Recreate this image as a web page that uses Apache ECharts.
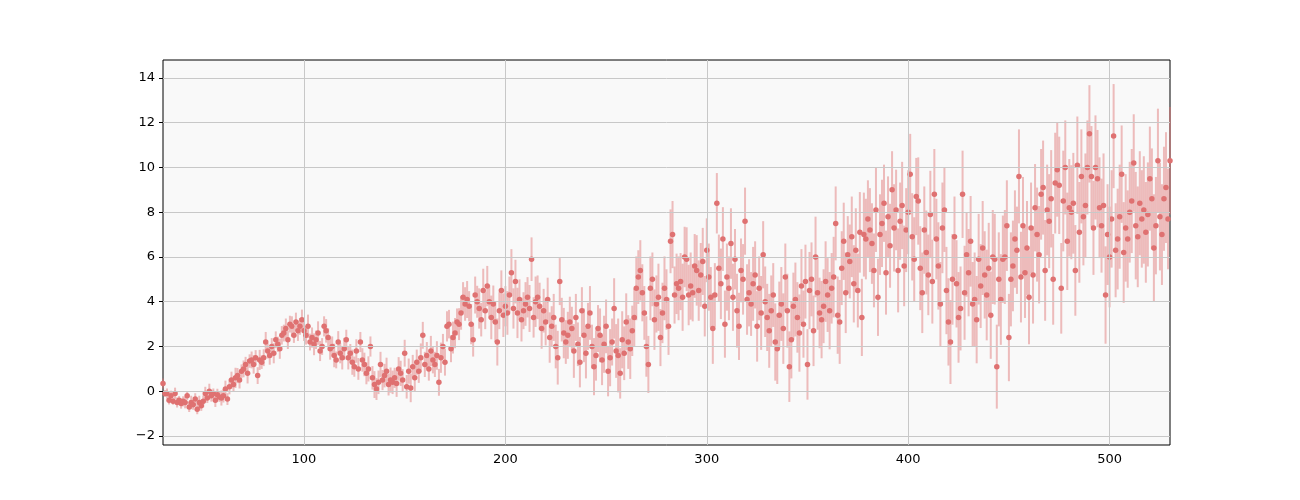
<!DOCTYPE html><html><head><meta charset="utf-8"><script src="https://cdn.jsdelivr.net/npm/echarts@6/dist/echarts.min.js"></script></head><body style="margin:0"><div id="c" style="width:1300px;height:500px"></div><script>
const xStart = 30;
const yValues = [0.35,-0.1,-0.1,-0.4,-0.2,-0.45,-0.1,-0.5,-0.4,-0.55,
-0.45,-0.5,-0.2,-0.7,-0.5,-0.6,-0.35,-0.8,-0.5,-0.65,
-0.45,-0.1,-0.3,0.0,-0.2,-0.1,-0.4,-0.15,-0.25,-0.3,
-0.2,0.1,-0.35,0.2,0.5,0.3,0.6,0.7,0.5,0.9,
1.0,1.2,0.8,1.35,1.4,1.2,1.5,0.7,1.4,1.3,
1.5,2.2,1.8,1.6,2.0,1.7,2.3,2.1,1.9,2.5,
2.6,2.8,2.3,3.0,2.9,2.5,3.1,2.7,2.9,3.2,
2.7,2.5,2.9,2.2,2.4,2.1,2.3,2.6,1.8,2.0,
2.9,2.7,2.4,1.9,2.0,1.6,1.4,2.2,1.7,1.5,
1.9,2.3,1.5,1.7,1.3,1.1,1.8,1.0,2.2,1.4,
1.2,0.8,1.0,2.0,0.6,0.3,0.1,0.4,1.2,0.5,
0.7,0.9,0.3,0.5,0.4,0.6,0.35,1.0,0.8,0.5,
1.7,0.2,0.9,0.15,1.1,0.6,1.3,0.9,1.5,2.5,
1.2,1.6,1.0,1.8,1.4,1.2,1.6,0.4,1.5,2.0,
1.3,2.9,3.0,1.9,2.4,2.6,3.1,3.0,3.5,4.2,
3.9,4.1,3.8,3.0,2.3,4.3,4.0,3.7,3.2,4.5,
3.6,4.7,4.0,3.3,3.9,3.1,2.2,3.6,4.5,3.4,
3.8,3.5,4.3,5.3,3.7,4.9,3.5,4.1,3.2,3.6,
3.9,4.2,3.7,5.9,3.3,4.0,4.2,3.8,2.8,3.6,
3.1,4.1,2.4,2.9,3.3,2.0,1.5,4.9,3.2,2.6,
2.2,2.5,3.1,2.8,1.8,3.3,2.1,1.3,3.6,2.5,
1.7,2.9,3.5,2.0,1.1,1.6,2.8,2.5,1.4,2.1,
2.9,0.9,1.5,2.2,3.7,1.8,1.6,0.8,2.3,1.7,
3.1,2.2,1.9,2.7,3.3,4.6,5.1,5.4,4.4,3.5,
2.0,1.2,4.6,5.0,3.2,3.9,4.2,2.4,3.5,4.6,
4.1,2.9,6.7,7.0,4.3,4.8,4.6,4.9,4.2,6.0,
5.9,4.3,4.7,4.4,5.6,5.4,4.5,5.2,5.8,3.8,
6.3,5.1,4.2,2.8,4.3,8.4,5.5,4.8,6.8,3.0,
5.1,4.6,6.6,4.2,5.9,3.6,2.9,5.4,5.0,7.6,
4.1,4.4,3.9,4.8,5.2,2.9,4.6,3.5,6.1,4.0,
3.3,2.7,3.6,4.3,2.2,1.9,3.4,3.9,2.8,5.1,
3.6,1.1,2.3,3.8,4.1,3.3,2.6,4.7,3.0,4.9,
1.2,4.5,5.0,2.7,6.0,4.4,3.5,3.2,3.8,4.9,
4.3,3.6,4.6,5.1,7.5,3.4,3.1,5.5,6.7,4.4,
6.1,5.8,6.9,4.8,6.3,4.5,7.1,3.3,7.0,6.8,
7.7,7.2,6.6,5.4,8.1,4.2,7.0,7.5,8.4,5.3,
7.8,6.5,9.0,7.3,8.1,5.4,7.6,8.3,5.6,7.2,
8.0,9.7,6.9,5.9,8.7,8.5,5.5,4.4,7.2,6.2,
5.2,7.9,4.9,8.8,6.8,5.6,3.9,7.3,8.1,4.5,
3.1,2.2,5.0,6.9,4.8,3.3,3.7,8.8,4.4,6.1,
5.3,6.7,3.9,4.1,3.2,5.9,4.7,6.4,5.2,4.3,
5.5,3.4,6.0,5.9,1.1,5.0,4.1,5.9,6.0,7.4,
2.4,5.0,5.6,6.8,6.3,9.6,5.1,7.4,5.3,6.4,
4.2,7.3,5.2,8.2,7.0,6.1,8.8,9.1,5.4,8.1,
7.6,8.6,5.0,9.3,9.9,9.2,4.6,8.5,10.0,6.7,
8.2,8.0,8.4,5.4,10.1,7.1,9.6,7.8,8.3,10.0,
11.5,9.6,7.3,10.0,9.5,8.2,7.4,8.3,4.3,7.0,
6.0,7.7,11.4,6.3,6.8,7.8,9.7,6.2,7.3,6.8,
8.0,8.5,10.2,7.4,6.9,8.4,7.7,8.1,7.1,7.9,
9.5,8.6,6.4,7.4,10.3,7.8,7.0,8.6,9.1,7.7,
10.3];
const errValues = [0.3,0.2,0.3,0.25,0.3,0.2,0.35,0.3,0.25,0.3,
0.3,0.35,0.25,0.3,0.4,0.3,0.35,0.3,0.4,0.3,
0.35,0.4,0.3,0.45,0.35,0.3,0.4,0.35,0.3,0.45,
0.4,0.5,0.35,0.45,0.5,0.4,0.6,0.45,0.5,0.4,
0.5,0.45,0.6,0.4,0.5,0.55,0.45,0.5,0.6,0.4,
0.5,0.6,0.45,0.55,0.5,0.6,0.5,0.45,0.6,0.55,
0.5,0.6,0.55,0.5,0.6,0.45,0.55,0.6,0.5,0.6,
0.6,0.55,0.7,0.5,0.6,0.65,0.55,0.7,0.6,0.5,
0.6,0.7,0.55,0.65,0.6,0.7,0.5,0.65,0.6,0.7,
0.65,0.6,0.7,0.55,0.75,0.6,0.7,0.65,0.6,0.7,
0.7,0.65,0.75,0.6,0.7,0.8,0.65,0.7,0.75,0.6,
0.7,0.8,0.65,0.75,0.7,0.6,0.8,0.7,0.75,0.65,
0.8,0.7,0.75,0.85,0.7,0.8,0.75,0.7,0.85,0.8,
0.75,0.8,0.7,0.9,0.8,0.75,0.85,0.8,0.9,0.75,
0.8,0.9,0.85,0.8,0.95,0.9,0.8,0.95,1.0,0.9,
1.0,1.1,0.9,1.2,1.0,1.1,0.95,1.2,1.0,1.3,
1.1,1.2,1.0,1.3,1.1,1.2,1.4,1.1,1.2,1.3,
1.2,1.3,1.1,1.4,1.2,1.3,1.5,1.2,1.3,1.1,
1.3,1.2,1.4,1.3,1.2,1.5,1.3,1.4,1.2,1.3,
1.4,1.3,1.5,1.2,1.4,1.3,1.6,1.4,1.3,1.5,
1.3,1.4,1.5,1.3,1.6,1.4,1.3,1.5,1.4,1.6,
1.5,1.4,1.6,1.3,1.7,1.5,1.4,1.6,1.5,1.7,
1.6,1.5,1.7,1.4,1.8,1.6,2.2,1.5,1.7,1.6,
1.7,1.6,1.8,1.5,1.7,1.9,1.6,1.8,1.7,1.6,
1.8,1.7,1.9,1.6,1.8,1.7,2.0,1.7,1.8,1.9,
1.8,1.7,1.9,2.0,1.7,1.8,1.9,1.7,2.0,1.8,
1.9,1.8,2.0,1.7,1.9,2.1,1.8,1.9,2.0,1.8,
1.9,2.0,1.8,2.1,1.9,1.8,2.0,2.1,1.9,2.0,
2.0,1.9,2.1,2.0,1.8,2.2,2.0,1.9,2.1,2.0,
2.1,2.0,1.9,2.2,2.0,2.1,1.9,2.2,2.0,2.1,
2.0,2.2,2.1,1.9,2.3,2.1,2.0,2.2,2.1,2.0,
2.2,2.1,2.3,2.0,2.2,2.1,2.3,2.2,2.0,2.2,
2.1,2.3,2.2,2.1,2.4,2.2,2.1,2.3,2.2,2.4,
2.2,2.3,2.1,2.4,2.2,2.3,2.5,2.2,2.3,2.4,
2.3,2.2,2.4,2.3,2.5,2.2,2.4,2.3,2.5,2.4,
2.3,2.5,2.4,2.2,2.5,2.3,2.4,2.6,2.3,2.5,
2.4,2.5,2.3,2.6,2.4,2.5,2.3,2.6,2.4,2.5,
2.5,2.4,2.6,2.5,2.3,2.6,2.5,2.4,2.6,2.5,
2.4,2.6,2.5,2.7,2.4,2.6,2.5,2.7,2.5,2.6,
2.6,2.5,2.7,2.4,2.6,2.7,2.5,2.6,2.8,2.5,
2.6,2.7,2.5,2.8,2.6,2.7,2.5,2.8,2.6,2.7,
2.7,2.6,2.8,2.7,2.5,2.8,2.7,2.6,2.8,2.7,
2.6,2.8,2.7,2.9,2.6,2.8,2.7,2.9,2.7,2.8,
2.8,2.7,2.9,2.6,2.8,2.9,2.7,2.8,3.0,2.7,
2.8,2.9,2.7,3.0,2.8,2.9,2.7,3.0,2.8,2.9,
2.9,2.8,3.0,2.7,2.9,3.0,2.8,2.9,3.1,2.8,
2.9,3.0,2.8,3.1,2.9,3.0,2.8,3.1,2.9,3.0,
3.0,2.9,3.1,2.8,3.0,3.1,2.9,3.0,3.2,2.9,
3.0,3.1,2.9,3.2,3.0,3.1,2.9,3.2,3.0,3.1,
3.1,3.0,3.2,2.9,3.1,3.2,3.0,3.1,3.3,3.0,
3.2];
const xTicks = [100,200,300,400,500];
const yTicks = [-2,0,2,4,6,8,10,12,14];
const pts = yValues.map((v,i)=>[xStart+i, v, errValues[i]*0.75]);
const chart = echarts.init(document.getElementById('c'));
const lab = {color:'#000',fontSize:13,fontFamily:'DejaVu Sans'};
chart.setOption({
 grid:{left:163,right:130,top:60,bottom:55,show:true,backgroundColor:'#f9f9f9',borderColor:'#000',borderWidth:1},
 xAxis:{type:'value',min:30,max:530,axisLine:{show:false},splitLine:{show:false},axisTick:{show:true,length:4,lineStyle:{color:'#000'},customValues:xTicks},axisLabel:Object.assign({customValues:xTicks},lab)},
 yAxis:{type:'value',min:-2.4,max:14.8,axisLine:{show:false},splitLine:{show:false},axisTick:{show:true,length:4,lineStyle:{color:'#000'},customValues:yTicks},axisLabel:Object.assign({customValues:yTicks,formatter:v=>String(v).replace('-','\u2212')},lab)},
 series:[
 {type:'custom',silent:true,z:1,data:pts,renderItem:(p,api)=>{const x=api.value(0),y=api.value(1),e=api.value(2);const a=api.coord([x,y-e]),b=api.coord([x,y+e]);return {type:'line',shape:{x1:a[0],y1:a[1],x2:b[0],y2:b[1]},style:{stroke:'rgba(221,110,110,0.45)',lineWidth:2}};},
  markLine:{silent:true,symbol:'none',label:{show:false},lineStyle:{color:'#c8c8c8',type:'solid',width:1},data:[...xTicks.map(v=>({xAxis:v})),...yTicks.map(v=>({yAxis:v}))]}},
 {type:'scatter',z:3,symbolSize:5.5,data:pts.map(p=>[p[0],p[1]]),itemStyle:{color:'#df7171',opacity:1}}
 ]
});
</script></body></html>
